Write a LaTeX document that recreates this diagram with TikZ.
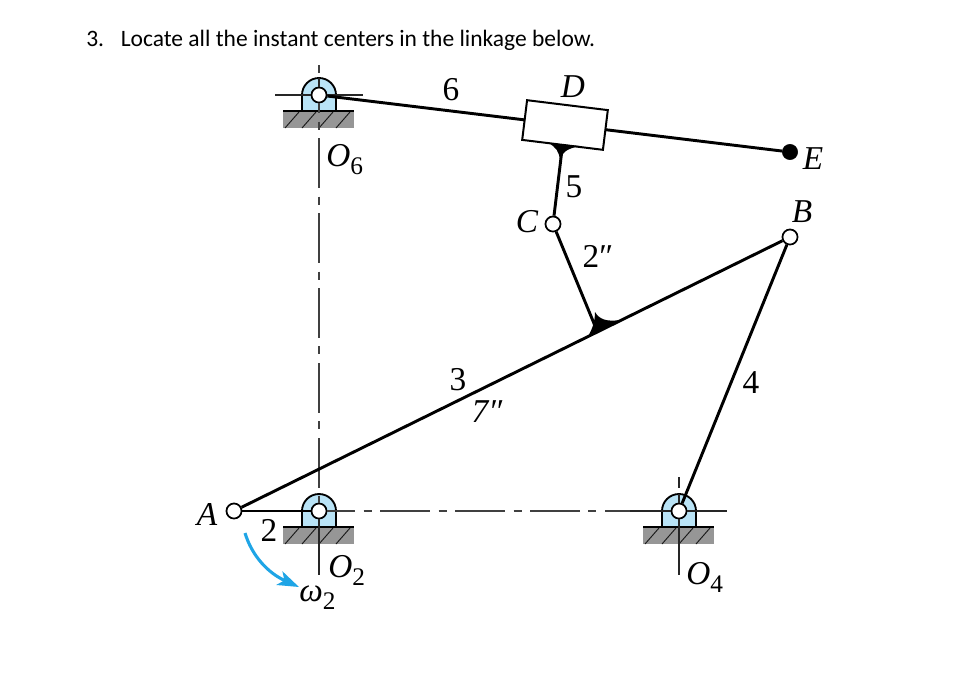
\documentclass[tikz,border=0pt]{standalone}
\usepackage{fontspec}
\setmainfont{Liberation Serif}
\newfontfamily\titlefont{Carlito}
\usetikzlibrary{arrows.meta}
\definecolor{pivotblue}{HTML}{B9E3F6}
\definecolor{groundgrey}{HTML}{969696}
\definecolor{omegablue}{HTML}{1FA5E6}
\newcommand\subs[1]{\raisebox{-0.26em}{\fontsize{19}{19}\selectfont\upshape #1}}
\tikzset{
  x=0.75pt,y=-0.75pt,
  linkbar/.style={line width=2.2pt,black},
  thinline/.style={line width=0.9pt,black!85},
  centerline/.style={line width=1.1pt,black!75},
  pinhole/.style={circle,draw=black,fill=white,line width=1.3pt,minimum size=11.3pt,inner sep=0pt},
  solidpin/.style={circle,draw=black,fill=black,minimum size=11.5pt,inner sep=0pt},
  slider/.style={rectangle,draw=black,fill=white,line width=1.5pt,minimum width=61pt,minimum height=30pt,inner sep=0pt,rotate=-7},
  lbl/.style={inner sep=0pt,font=\fontsize{25}{27}\selectfont},
  ilbl/.style={inner sep=0pt,font=\fontsize{25}{27}\selectfont\itshape},
  pics/pivotbase/.style={code={
    \fill[groundgrey] (-36,16) rectangle (35,33);
    \foreach \d in {-34,-17,0,17}{\draw[line width=0.7pt,black!90] (\d,33) -- (\d+14,17);}
    \fill[pivotblue,draw=black,line width=1.4pt] (-17,16) -- (-17,0) .. controls (-17,-9.4) and (-9.4,-17) .. (0,-17) .. controls (9.4,-17) and (17,-9.4) .. (17,0) -- (17,16);
    \draw[line width=1.8pt,black] (-36,16) -- (35,16);
  }},
}
\begin{document}
\begin{tikzpicture}
\useasboundingbox (0,0) rectangle (966,690);
\fill[white] (0,0) rectangle (966,690);
\node[anchor=base west,inner sep=0pt,font=\titlefont\fontsize{17.63}{20}\selectfont] (title) at (86,46) {3.\hspace{12.5pt}Locate all the instant centers in the linkage below.};

% ground pivots
\pic at (319,95) {pivotbase};
\pic at (319,511) {pivotbase};
\pic at (679,511) {pivotbase};

% named points
\node[pinhole] (O6) at (319,95) {};
\node[pinhole] (O2) at (319,511) {};
\node[pinhole] (O4) at (679,511) {};
\node[pinhole] (A) at (234,511) {};
\node[pinhole] (B) at (790,237) {};
\node[pinhole] (C) at (553,224) {};
\node[solidpin] (E) at (790,152) {};

% centre lines
\coordinate (O6top) at (319,65);
\coordinate (O6gap) at (319,73);
\coordinate (O6arch) at (319,78);
\coordinate (O6left) at (275,95);
\coordinate (O6right) at (363,95);
\coordinate (O2low) at (319,575);
\coordinate (O4low) at (679,575);
\coordinate (O4left) at (630,511);
\coordinate (O4right) at (727,511);
\coordinate (O4top) at (679,494);
\coordinate (O4dashA) at (679,477);
\coordinate (O4dashB) at (679,488);
\draw[centerline] (O6top) -- (O6gap);
\draw[thinline] (O6arch) -- (O6);
\draw[thinline] (O6left) -- (O6);
\draw[thinline] (O6) -- (O6right);
\draw[centerline,dash pattern=on 37.5pt off 6.2pt on 6pt off 6.5pt,dash phase=30pt] (O6) -- (O2);
\draw[centerline,dash pattern=on 37.5pt off 6.2pt on 6pt off 6.5pt,dash phase=16.5pt] (O2) -- (O4);
\draw[thinline] (O2) -- (O2low);
\draw[thinline] (O4) -- (O4low);
\draw[thinline] (O4left) -- (O4);
\draw[thinline] (O4) -- (O4right);
\draw[thinline] (O4top) -- (O4);
\draw[thinline] (O4dashA) -- (O4dashB);

% links
\draw[linkbar] (O6) -- (E);
\node[slider] (D) at (565,125) {};
\draw[linkbar] (A) -- (B);
\draw[linkbar] (A) -- (O2);
\draw[linkbar] (B) -- (O4);
\path (A) -- (B) coordinate[pos=0.658] (J);
\draw[linkbar] (C) -- (J);
\draw[linkbar] (C) -- (D.south);

% welded fillets
\fill[black] (549,143) .. controls (556,148) and (559,151) .. (560,160) .. controls (562,152) and (567,149) .. (579,146) -- cycle;
\fill[black] (587,338) .. controls (592,330) and (595,322) .. (595,312) .. controls (599,319) and (606,322) .. (620,320) -- cycle;

% angular velocity arrow
\coordinate (wA) at (245,533);
\coordinate (wB) at (299,587);
\draw[omegablue,line width=2.3pt,-{Stealth[length=16pt,width=11pt,inset=4pt]}] (wA) .. controls (252,556) and (268,573) .. (wB);

% labels
\node[lbl] (l6) at (451,90) {6};
\node[ilbl] (lD) at (573,87) {D};
\node[ilbl] (lE) at (813,159) {E};
\node[ilbl] (lB) at (802,212) {B};
\node[lbl] (l5) at (574,187) {5};
\node[ilbl] (lC) at (527,222) {C};
\node[lbl] (l2in) at (598,256) {2″};
\node[lbl] (l3) at (458,380) {3};
\node[ilbl] (l7in) at (487,412) {7″};
\node[lbl] (l4) at (751,383) {4};
\node[ilbl] (lA) at (207,514) {A};
\node[lbl] (l2) at (269,530) {2};
\node[ilbl,anchor=base west] (lO6) at (326,166) {O\subs{6}};
\node[ilbl,anchor=base west] (lO2) at (328,577) {O\subs{2}};
\node[ilbl,anchor=base west] (lO4) at (686,584) {O\subs{4}};
\node[ilbl,anchor=base west] (lw) at (299,601) {ω\subs{2}};
\end{tikzpicture}
\end{document}
